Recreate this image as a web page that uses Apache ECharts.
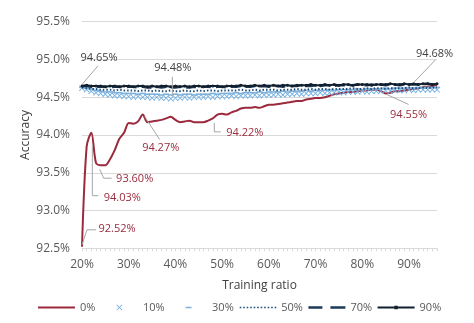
<!DOCTYPE html>
<html>
<head>
<meta charset="utf-8">
<script src="https://cdn.jsdelivr.net/npm/echarts@6/dist/echarts.min.js"></script>
<style>
html,body{margin:0;padding:0;background:#fff;}
#chart{width:474px;height:323px;}
</style>
</head>
<body>
<div id="chart"></div>
<script>
// ---- data ----
const ratios = [];
for (let r = 20; r <= 96; r++) ratios.push(r + '%');
const seriesNames = ['0%', '10%', '30%', '50%', '70%', '90%'];
const yTicks = [92.5, 93.0, 93.5, 94.0, 94.5, 95.0, 95.5];

const acc0 = [92.52,93.85,94.03,93.63,93.60,93.60,93.68,93.80,93.95,94.03,
  94.16,94.15,94.18,94.27,94.17,94.18,94.19,94.20,94.22,94.24,
  94.20,94.17,94.18,94.19,94.17,94.17,94.17,94.19,94.22,94.27,
  94.28,94.27,94.30,94.32,94.35,94.36,94.36,94.37,94.36,94.38,
  94.40,94.40,94.41,94.42,94.43,94.44,94.45,94.45,94.47,94.48,
  94.49,94.49,94.50,94.52,94.54,94.55,94.56,94.57,94.57,94.58,
  94.59,94.59,94.60,94.60,94.58,94.55,94.56,94.58,94.58,94.59,
  94.60,94.61,94.62,94.63,94.64,94.65,94.66];
const acc10 = [94.62,94.60,94.58,94.56,94.55,94.54,94.53,94.52,94.52,94.51,
  94.51,94.50,94.51,94.50,94.50,94.49,94.50,94.49,94.49,94.48,
  94.49,94.49,94.50,94.49,94.50,94.50,94.50,94.51,94.50,94.51,
  94.51,94.51,94.52,94.51,94.52,94.52,94.52,94.53,94.52,94.53,
  94.53,94.53,94.54,94.53,94.54,94.54,94.55,94.54,94.55,94.55,
  94.55,94.56,94.55,94.56,94.56,94.57,94.56,94.57,94.57,94.57,
  94.58,94.57,94.58,94.58,94.58,94.59,94.58,94.59,94.59,94.59,
  94.60,94.59,94.60,94.60,94.60,94.60,94.60];
const acc30 = [94.63,94.62,94.61,94.59,94.58,94.57,94.57,94.56,94.56,94.55,
  94.55,94.55,94.54,94.55,94.54,94.54,94.54,94.53,94.54,94.53,
  94.54,94.53,94.54,94.54,94.53,94.54,94.54,94.54,94.55,94.54,
  94.55,94.55,94.55,94.56,94.55,94.56,94.56,94.56,94.57,94.56,
  94.57,94.57,94.57,94.58,94.57,94.58,94.58,94.58,94.59,94.58,
  94.59,94.59,94.59,94.60,94.59,94.60,94.60,94.60,94.60,94.61,
  94.60,94.61,94.61,94.61,94.61,94.62,94.61,94.62,94.62,94.62,
  94.62,94.62,94.63,94.62,94.63,94.63,94.63];
const acc50 = [94.63,94.62,94.61,94.61,94.60,94.60,94.60,94.59,94.60,94.59,
  94.59,94.59,94.58,94.59,94.59,94.58,94.59,94.58,94.58,94.59,
  94.58,94.58,94.59,94.58,94.58,94.59,94.58,94.59,94.59,94.58,
  94.59,94.59,94.59,94.59,94.60,94.59,94.59,94.60,94.59,94.60,
  94.60,94.60,94.59,94.60,94.60,94.60,94.61,94.60,94.60,94.61,
  94.60,94.61,94.61,94.60,94.61,94.61,94.61,94.61,94.62,94.61,
  94.61,94.62,94.61,94.62,94.62,94.61,94.62,94.62,94.62,94.62,
  94.63,94.62,94.62,94.63,94.62,94.63,94.63];
const acc70 = [94.65,94.65,94.64,94.64,94.64,94.64,94.63,94.64,94.64,94.63,
  94.64,94.64,94.63,94.64,94.63,94.63,94.64,94.63,94.64,94.63,
  94.63,94.64,94.63,94.63,94.64,94.63,94.64,94.64,94.63,94.64,
  94.64,94.63,94.64,94.64,94.65,94.64,94.64,94.65,94.64,94.65,
  94.64,94.65,94.65,94.64,94.65,94.65,94.65,94.66,94.65,94.65,
  94.66,94.65,94.66,94.66,94.65,94.66,94.66,94.66,94.66,94.67,
  94.66,94.66,94.67,94.66,94.67,94.66,94.67,94.67,94.66,94.67,
  94.67,94.67,94.67,94.67,94.68,94.67,94.67];
const acc90 = [94.65,94.66,94.65,94.65,94.65,94.64,94.65,94.65,94.64,94.65,
  94.65,94.64,94.65,94.65,94.64,94.65,94.64,94.65,94.65,94.64,
  94.65,94.64,94.65,94.64,94.65,94.65,94.64,94.65,94.65,94.65,
  94.64,94.65,94.65,94.65,94.66,94.65,94.65,94.66,94.65,94.66,
  94.65,94.66,94.65,94.66,94.66,94.65,94.66,94.66,94.66,94.67,
  94.66,94.66,94.67,94.66,94.67,94.66,94.67,94.67,94.66,94.67,
  94.67,94.67,94.66,94.67,94.67,94.67,94.68,94.67,94.67,94.68,
  94.67,94.68,94.67,94.68,94.68,94.67,94.68];

// annotated points: [seriesIndex, categoryIndex]
const annotatedPoints = [[0,0],[0,2],[0,4],[0,13],[0,28],[0,65],[5,0],[1,19],[5,71]];

// ---- styling / layout (not data) ----
const RED = '#9b2a3c';
const annStyle = [
  {dx:35, dy:-18, lead:[[0,-2],[5,-17],[14,-17]]},
  {dx:31, dy:65,  lead:[[1,13],[1,63],[7,63]]},
  {dx:34, dy:14,  lead:[[-1,4],[3,13],[11,13]]},
  {dx:18, dy:33,  lead:[[2,2],[17,25]]},
  {dx:32, dy:14.5,lead:[[1.5,4.5],[1.5,13.5],[8,13.5]]},
  {dx:23, dy:21,  lead:[[1.5,1.2],[23,11]]},
  {dx:17, dy:-28, lead:[[-0.4,-1],[16,-20]]},
  {dx:2,  dy:-31, lead:[[1.6,-2.4],[1.6,-22]]},
  {dx:21, dy:-30, lead:[[0,-1],[22,-24]]}
];

const allData = [acc0, acc10, acc30, acc50, acc70, acc90];
const FONT = '"Open Sans", "Noto Sans", sans-serif';
const chart = echarts.init(document.getElementById('chart'), null, {renderer:'canvas'});

const crossPath = 'path://M0,1L1,0L5,4L9,0L10,1L6,5L10,9L9,10L5,6L1,10L0,9L4,5Z';
const dashPath = 'path://M0,0L10,0L10,2L0,2Z';

// legend icons drawn in a 37 x 6 frame (tiny corner anchors fix the frame)
const anchors = 'M0,0L0.01,0L0,0.01Z M37,6L36.99,6L37,5.99Z ';
let dots = '';
for (let x = 0.5; x < 37; x += 3.5) dots += 'M' + x + ',2.2L' + (x + 1.6) + ',2.2L' + (x + 1.6) + ',3.8L' + x + ',3.8Z ';
const legendIcons = {
  '0%':  'path://' + anchors + 'M0,2L37,2L37,4L0,4Z',
  '10%': 'path://' + anchors + 'M15.5,0.6L16.1,0L18.5,2.4L20.9,0L21.5,0.6L19.1,3L21.5,5.4L20.9,6L18.5,3.6L16.1,6L15.5,5.4L17.9,3Z',
  '30%': 'path://' + anchors + 'M15.5,2.2L21.5,2.2L21.5,3.8L15.5,3.8Z',
  '50%': 'path://' + anchors + dots,
  '70%': 'path://' + anchors + 'M0,1.8L14,1.8L14,4.2L0,4.2Z M22,1.8L37,1.8L37,4.2L22,4.2Z',
  '90%': 'path://' + anchors + 'M0,2L17,2L17,4L0,4Z M20,2L37,2L37,4L20,4Z M16.8,1.3L20.2,1.3L20.2,4.7L16.8,4.7Z'
};

const option = {
  animation: false,
  backgroundColor: '#fff',
  grid: {left: 82, right: 37, top: 21.7, bottom: 74.7},
  xAxis: {
    type: 'category', data: ratios, boundaryGap: false,
    name: 'Training ratio', nameLocation: 'middle', nameGap: 31,
    nameTextStyle: {fontFamily: FONT, fontSize: 12, color: '#404040'},
    axisLine: {lineStyle: {color: '#d9d9d9'}},
    axisTick: {show: true, interval: 0, length: 3, lineStyle: {color: '#d9d9d9'}},
    axisLabel: {interval: 9, margin: 10, fontFamily: FONT, fontSize: 12, color: '#595959'},
    splitLine: {show: false}
  },
  yAxis: {
    type: 'value', min: yTicks[0], max: yTicks[yTicks.length-1], interval: 0.5,
    name: 'Accuracy', nameLocation: 'middle', nameGap: 50, nameMoveOverlap: false,
    nameTextStyle: {fontFamily: FONT, fontSize: 12, color: '#404040'},
    axisLine: {show: false}, axisTick: {show: false},
    axisLabel: {margin: 12, fontFamily: FONT, fontSize: 12, color: '#595959',
      formatter: v => v.toFixed(1) + '%'},
    splitLine: {lineStyle: {color: '#d9d9d9'}}
  },
  legend: {
    left: 33, top: 297, itemWidth: 37, itemHeight: 6, itemGap: 5.5,
    textStyle: {fontFamily: FONT, fontSize: 11, color: '#595959'},
    data: seriesNames.map(n => ({name: n, icon: legendIcons[n]}))
  },
  series: [
    {name: seriesNames[0], type: 'line', data: acc0, smooth: 0.3, symbol: 'none',
     lineStyle: {color: RED, width: 2}, itemStyle: {color: RED}, z: 2},
    {name: seriesNames[1], type: 'line', data: acc10, symbol: crossPath, symbolSize: 6,
     showAllSymbol: true, lineStyle: {opacity: 0, width: 0}, itemStyle: {color: '#6eaee2'}, z: 3},
    {name: seriesNames[2], type: 'line', data: acc30, symbol: dashPath, symbolSize: [6, 1.6],
     showAllSymbol: true, lineStyle: {opacity: 0, width: 0}, itemStyle: {color: '#7fb0dc'}, z: 3},
    {name: seriesNames[3], type: 'line', data: acc50, symbol: 'none',
     lineStyle: {color: '#1f4e79', width: 2, type: [1.5, 2]}, itemStyle: {color: '#1f4e79'}, z: 4},
    {name: seriesNames[4], type: 'line', data: acc70, symbol: 'none',
     lineStyle: {color: '#1d3a58', width: 2.5, type: [10, 5]}, itemStyle: {color: '#1d3a58'}, z: 5},
    {name: seriesNames[5], type: 'line', data: acc90, symbol: 'circle', symbolSize: 3,
     showAllSymbol: true, lineStyle: {color: '#111f2e', width: 2}, itemStyle: {color: '#111f2e'}, z: 6}
  ]
};
chart.setOption(option);

// annotations positioned through the chart's own scales
const graphics = [];
annotatedPoints.forEach((ap, i) => {
  const [si, ci] = ap;
  const val = allData[si][ci];
  const p = chart.convertToPixel({gridIndex: 0}, [ratios[ci], val]);
  const st = annStyle[i];
  const pts = st.lead.map(d => [p[0] + d[0], p[1] + d[1]]);
  graphics.push({type: 'polyline', z: 100, silent: true,
    shape: {points: pts}, style: {stroke: '#a6a6a6', lineWidth: 1, fill: null}});
  graphics.push({type: 'text', z: 101, silent: true,
    x: p[0] + st.dx, y: p[1] + st.dy,
    style: {text: val.toFixed(2) + '%', fontFamily: FONT, fontSize: 11,
      fill: si === 0 ? RED : '#404040', align: 'center', verticalAlign: 'middle'}});
});
chart.setOption({graphic: graphics});
</script>
</body>
</html>
